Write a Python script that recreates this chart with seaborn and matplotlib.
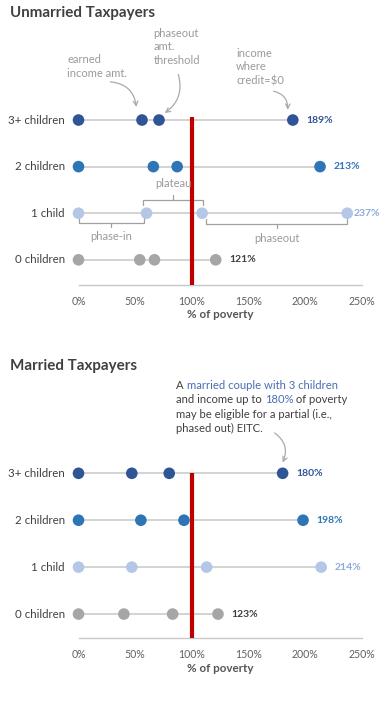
import matplotlib
matplotlib.use("Agg")
import matplotlib.pyplot as plt
import seaborn as sns
import pandas as pd

# ---------------- data ----------------
categories = ["0 children", "1 child", "2 children", "3+ children"]
tick_values = [0, 50, 100, 150, 200, 250]
tick_labels = ["0%", "50%", "100%", "150%", "200%", "250%"]
poverty_line = 100

unmarried_earned = [54, 60, 66, 56]
unmarried_threshold = [67, 109, 87, 71]
unmarried_zero = [121, 237, 213, 189]

married_earned = [40, 47, 55, 47]
married_threshold = [83, 113, 93, 80]
married_zero = [123, 214, 198, 180]

dot_colors = ["#a6a6a6", "#b4c7e7", "#2e75b6", "#2f5597"]
label_colors = ["#3f3f3f", "#8eaadc", "#2e75b6", "#2f5597"]

# ---------------- style ----------------
sns.set_theme(style="white")
plt.rcParams["font.family"] = ["Lato", "DejaVu Sans"]

W, H = 384, 705
fig = plt.figure(figsize=(W / 100, H / 100), dpi=100)

GRAY_TXT = "#9a9a9a"
DARK = "#404040"
LINE = "#c8c8c8"


def px_rect(x0, x1, ybot, ytop):
    return [x0 / W, 1 - ybot / H, (x1 - x0) / W, (ybot - ytop) / H]


def make_df(earned, threshold, zero):
    rows = []
    for i, c in enumerate(categories):
        for v in (0, earned[i], threshold[i], zero[i]):
            rows.append({"category": c, "row": i, "value": v})
    return pd.DataFrame(rows)


def draw_panel(ax, earned, threshold, zero, ylim, red_top):
    df = make_df(earned, threshold, zero)
    for i in range(len(categories)):
        ax.plot([0, zero[i]], [i, i], color=LINE, lw=1.1, zorder=1,
                solid_capstyle="butt", clip_on=False)
    ax.plot([poverty_line, poverty_line], [ylim[0], red_top],
            color="#c00000", lw=3.0, zorder=3, solid_capstyle="butt",
            clip_on=False)
    sns.scatterplot(data=df, x="value", y="row", hue="category",
                    palette=dict(zip(categories, dot_colors)), s=70,
                    edgecolor="none", legend=False, ax=ax, zorder=4,
                    clip_on=False)
    for i, c in enumerate(categories):
        ax.text(-12, i, c, ha="right", va="center", fontsize=8.3,
                color=DARK)
        off = 6 if zero[i] > 230 else 12
        ax.text(zero[i] + off, i, f"{zero[i]}%", ha="left", va="center",
                fontsize=7.5, fontweight="bold", color=label_colors[i])
    ax.set_xlim(0, 250)
    ax.set_ylim(*ylim)
    ax.set_xticks(tick_values)
    ax.set_xticklabels(tick_labels)
    ax.set_yticks([])
    ax.set_ylabel("")
    ax.set_xlabel("% of poverty", fontsize=8.4, fontweight="bold",
                  color="#555555", labelpad=2)
    for s in ("top", "left", "right"):
        ax.spines[s].set_visible(False)
    ax.spines["bottom"].set_color(LINE)
    ax.spines["bottom"].set_linewidth(1.0)
    ax.tick_params(axis="x", direction="in", length=3, width=1,
                   color=LINE, labelsize=7.6, labelcolor="#606060", pad=8)
    ax.patch.set_alpha(0)


# ---------------- unmarried ----------------
ax1 = fig.add_axes(px_rect(78.5, 362, 284.5, 100))
draw_panel(ax1, unmarried_earned, unmarried_threshold, unmarried_zero,
           (-0.53, 3.43), 3.07)

fig.text(10 / W, 1 - 13 / H, "Unmarried Taxpayers", ha="left", va="center",
         fontsize=10.9, fontweight="bold", color="#404040")

arrow_kw = dict(arrowstyle="->", color="#aaaaaa", lw=0.9,
                shrinkA=0, shrinkB=0, mutation_scale=8)
ann_fs = 8.0

ax1.annotate("earned\nincome amt.", xy=(-10, 3.88), fontsize=ann_fs,
             color=GRAY_TXT, ha="left", va="bottom", linespacing=1.3,
             annotation_clip=False)
ax1.annotate("", xy=(51, 3.28), xytext=(28, 3.82), annotation_clip=False,
             arrowprops=dict(**arrow_kw, connectionstyle="arc3,rad=-0.4"))

ax1.annotate("phaseout\namt.\nthreshold", xy=(66, 4.16), fontsize=ann_fs,
             color=GRAY_TXT, ha="left", va="bottom", linespacing=1.3,
             annotation_clip=False)
ax1.annotate("", xy=(76, 3.15), xytext=(88, 3.98), annotation_clip=False,
             arrowprops=dict(**arrow_kw, connectionstyle="arc3,rad=-0.35"))

ax1.annotate("income\nwhere\ncredit=$0", xy=(139, 3.73), fontsize=ann_fs,
             color=GRAY_TXT, ha="left", va="bottom", linespacing=1.3,
             annotation_clip=False)
ax1.annotate("", xy=(184.5, 3.22), xytext=(172, 3.62),
             annotation_clip=False,
             arrowprops=dict(**arrow_kw, connectionstyle="arc3,rad=-0.4"))

# brackets for 1 child row
BR = "#a0a0a0"
r = 1
ax1.plot([57, 57, 110, 110], [r + 0.18, r + 0.285, r + 0.285, r + 0.18],
         color=BR, lw=0.9, clip_on=False)
ax1.plot([83.5, 83.5], [r + 0.285, r + 0.39], color=BR, lw=0.9)
ax1.text(83.5, r + 0.63, "plateau", ha="center", va="center",
         fontsize=ann_fs, color=GRAY_TXT)
ax1.plot([0, 0, 58, 58], [r - 0.11, r - 0.215, r - 0.215, r - 0.11],
         color=BR, lw=0.9, clip_on=False)
ax1.plot([29, 29], [r - 0.215, r - 0.29], color=BR, lw=0.9)
ax1.text(29, r - 0.49, "phase-in", ha="center", va="center",
         fontsize=ann_fs, color=GRAY_TXT)
ax1.plot([112, 112, 237, 237], [r - 0.12, r - 0.235, r - 0.235, r - 0.12],
         color=BR, lw=0.9, clip_on=False)
ax1.plot([175, 175], [r - 0.235, r - 0.31], color=BR, lw=0.9)
ax1.text(175, r - 0.55, "phaseout", ha="center", va="center",
         fontsize=ann_fs, color=GRAY_TXT)

# ---------------- married ----------------
ax2 = fig.add_axes(px_rect(78.5, 362, 638, 455))
draw_panel(ax2, married_earned, married_threshold, married_zero,
           (-0.51, 3.39), 3.0)

fig.text(10 / W, 1 - 366 / H, "Married Taxpayers", ha="left", va="center",
         fontsize=10.9, fontweight="bold", color="#404040")

BLUE_TXT = "#4a6db3"
fs = 8.1
x0 = 86
lines = [
    [("A ", DARK), ("married couple with 3 children", BLUE_TXT)],
    [("and income up to ", DARK), ("180%", BLUE_TXT), (" of poverty", DARK)],
    [("may be eligible for a partial (i.e.,", DARK)],
    [("phased out) EITC.", DARK)],
]
line_y = [4.87, 4.565, 4.26, 3.955]
for ly, parts in zip(line_y, lines):
    prev = None
    for txt, col in parts:
        if prev is None:
            prev = ax2.text(x0, ly, txt, ha="left", va="center",
                            fontsize=fs, color=col)
        else:
            prev = ax2.annotate(txt, xy=(1, 0), xycoords=prev,
                                ha="left", va="bottom", fontsize=fs,
                                color=col, annotation_clip=False)

ax2.annotate("", xy=(180, 3.23), xytext=(173, 3.86), annotation_clip=False,
             arrowprops=dict(**arrow_kw, connectionstyle="arc3,rad=-0.4"))

fig.savefig("out.png", dpi=100)
